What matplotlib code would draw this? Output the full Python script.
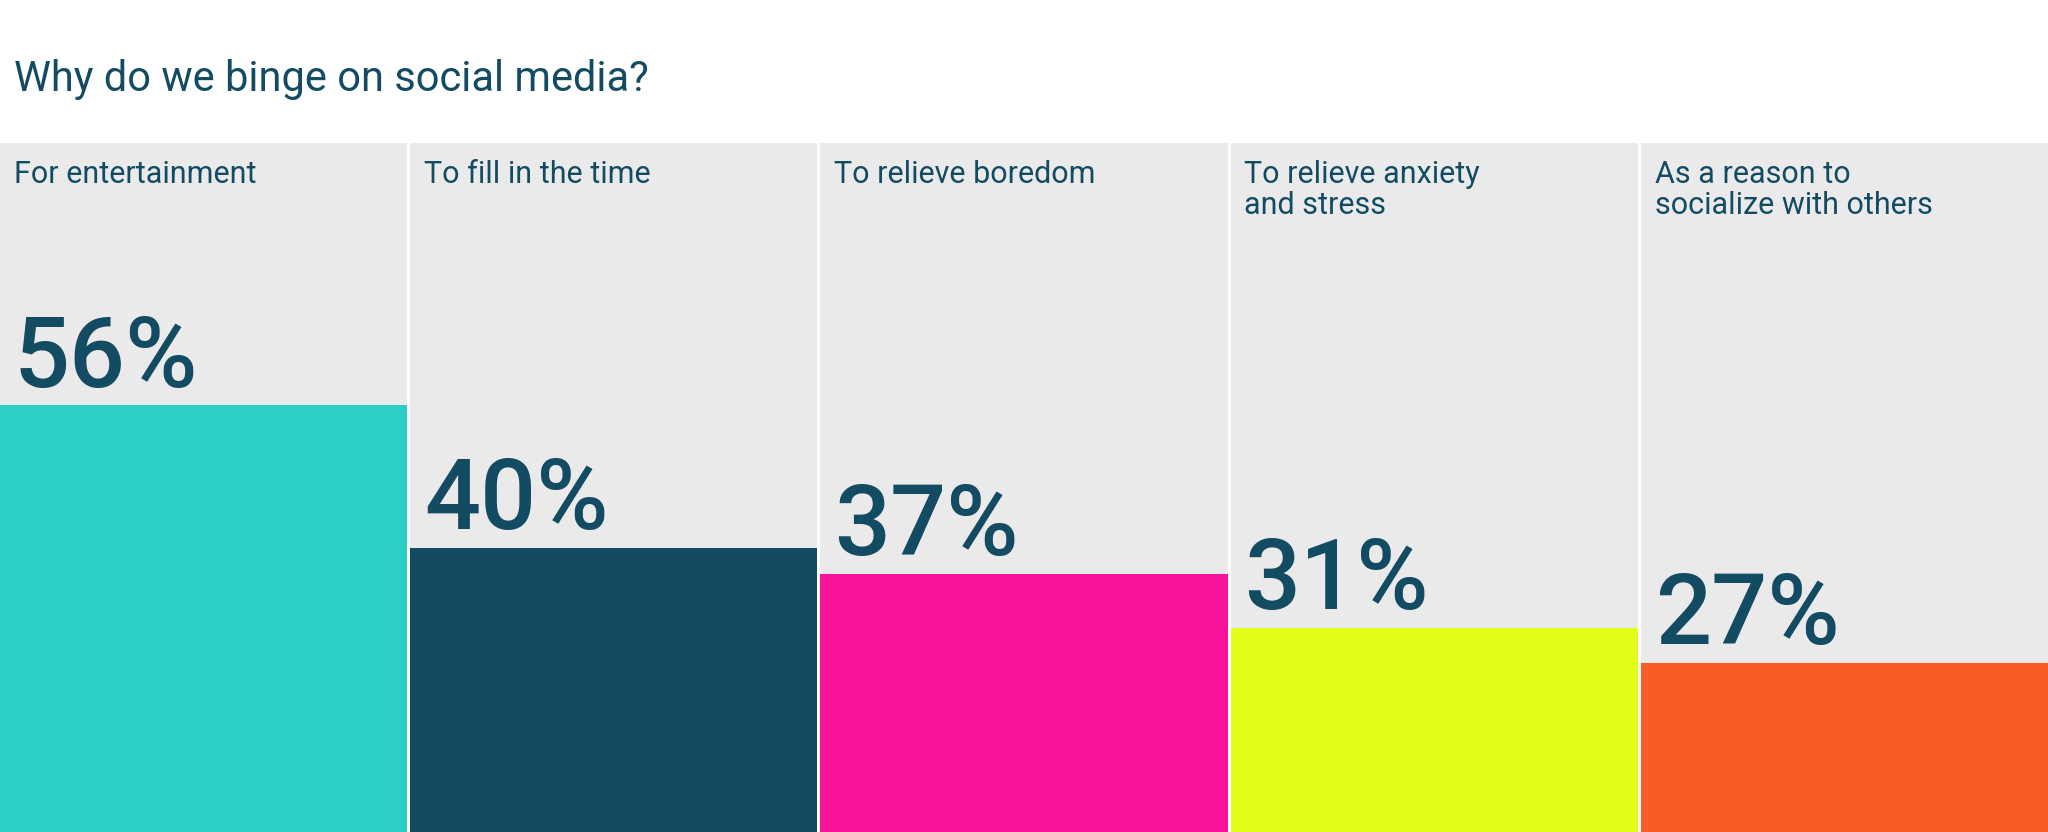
import matplotlib
matplotlib.use("Agg")
import matplotlib.pyplot as plt
import matplotlib.transforms as mtransforms

# data
reasons = ["For entertainment", "To fill in the time", "To relieve boredom",
           "To relieve anxiety\nand stress", "As a reason to\nsocialize with others"]
shares = [56, 40, 37, 31, 27]
bar_colors = ["#2ccfc5", "#134b63", "#f7139a", "#e2ff1a", "#f85c27"]
title = "Why do we binge on social media?"

TEXT = "#134b63"
PANEL = "#eaeaea"
plt.rcParams["font.family"] = ["Roboto", "DejaVu Sans"]

W, H = 2048, 832
fig = plt.figure(figsize=(W / 100, H / 100), dpi=100)
fig.patch.set_facecolor("white")

# axes fill the area under the title
ax = fig.add_axes([0, 0, 1, 1 - 143 / H])
ymin, ymax = 8, 85.5
x = list(range(len(shares)))
width = 1 - 3 / (W / len(shares))

ax.bar(x, [ymax - ymin] * len(x), bottom=ymin, width=width, color=PANEL, zorder=1)
ax.bar(x, shares, width=width, color=bar_colors, zorder=2)
ax.set_xlim(-width / 2, len(x) - 1 + width / 2)
ax.set_ylim(ymin, ymax)
ax.axis("off")

# category labels along the top of each column, one line at a time
blend = mtransforms.blended_transform_factory(ax.transData, fig.transFigure)
line_px = 31
for xi, lab in zip(x, reasons):
    for i, line in enumerate(lab.split("\n")):
        ax.annotate(line, xy=(xi - width / 2, 1 - (183 + i * line_px) / H),
                    xycoords=blend, xytext=(10, 0), textcoords="offset points",
                    ha="left", va="baseline", fontsize=22, color=TEXT)

# value labels sitting on top of each bar
for xi, v in zip(x, shares):
    ax.annotate(f"{v}%", xy=(xi - width / 2, v), xytext=(10, 13.5),
                textcoords="offset points", ha="left", va="baseline",
                fontsize=71, fontweight="medium", color=TEXT, zorder=3)

fig.text(14 / W, 1 - 91 / H, title, ha="left", va="baseline",
         fontsize=30, color=TEXT)

fig.savefig("out.png", dpi=100, facecolor="white")
